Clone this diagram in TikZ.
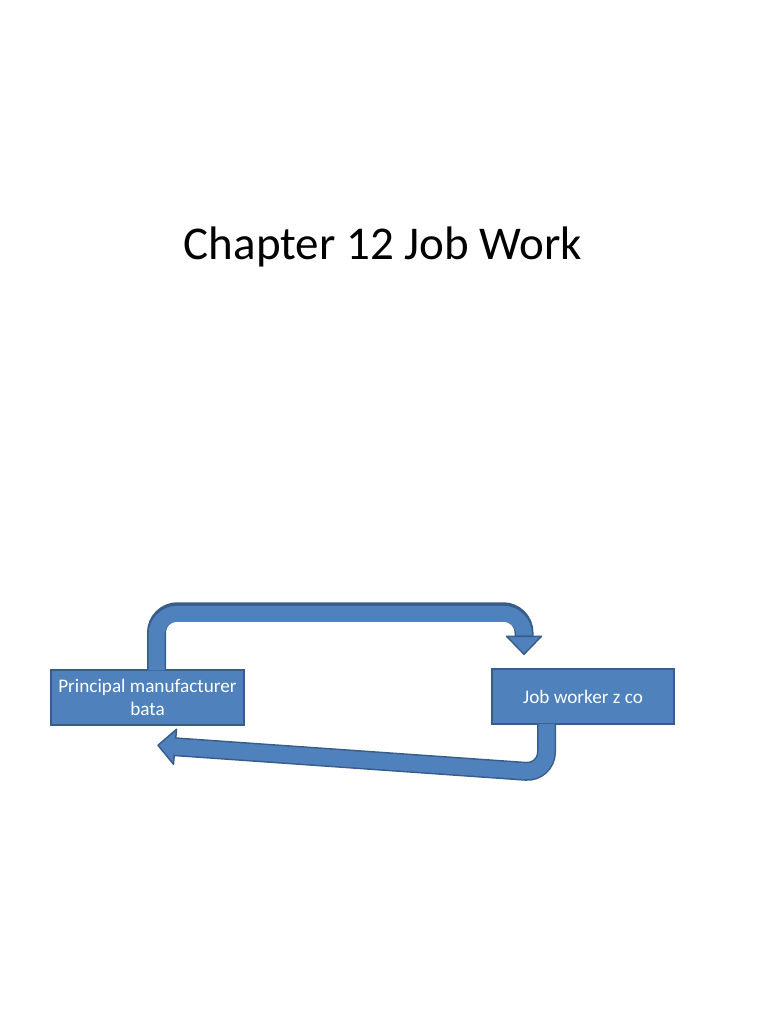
\documentclass[tikz,border=0pt]{standalone}
\usepackage{fontspec}
\setmainfont{Carlito}
\usetikzlibrary{positioning,calc}
\definecolor{boxblue}{HTML}{4F81BD}
\definecolor{boxedge}{HTML}{385D8A}
\begin{document}
\begin{tikzpicture}[x=1pt, y=-1pt,
		party/.style={draw=boxedge, fill=boxblue, line width=1.5pt, text=white, align=center,
			minimum height=55pt, inner sep=0pt, font=\fontsize{19.2}{23}\selectfont},
		shaftout/.style={draw=boxedge, line width=19pt, rounded corners=21pt},
		shaftin/.style={draw=boxblue, line width=16pt, rounded corners=21pt},
		headtip/.style={fill=boxblue, draw=boxedge, line width=1.5pt, line join=round}]
	\useasboundingbox (0,0) rectangle (768,1024);

	\node[font=\fontsize{47}{50}\selectfont] (title) at (383,247) {Chapter 12 Job Work};

	\node[party, minimum width=193pt] (manufacturer) at (147.5,697.5) {Principal manufacturer\\bata};
	\node[party, minimum width=182pt] (worker) at (583,696.5) {Job worker z co};

	\coordinate (gobase) at ($(worker.north)+(-59,-32)$);
	\coordinate (gotip) at ($(worker.north)+(-59,-14)$);
	\coordinate (backbend) at ($(worker.south)+(-36.5,48)$);
	\coordinate (backbase) at ($(manufacturer.south)+(27.5,21)$);
	\coordinate (backtip) at ($(manufacturer.south)+(10.5,19.5)$);

	\draw[shaftout] ([xshift=9]manufacturer.north) -- ++(0,-57.5) -| (gobase);
	\draw[shaftout] ([xshift=-36.5]worker.south) -- (backbend) -- (backbase);

	\filldraw[headtip] ($(gobase)!17.5pt!90:(gotip)$) -- (gotip) -- ($(gobase)!17.5pt!-90:(gotip)$) -- cycle;
	\filldraw[headtip] ($(backbase)!17.5pt!90:(backtip)$) -- (backtip) -- ($(backbase)!17.5pt!-90:(backtip)$) -- cycle;

	\draw[shaftin] ([xshift=9,yshift=-1]manufacturer.north) -- ++(0,-56.5) -| ([yshift=1]gobase);
	\draw[shaftin] ([xshift=-36.5,yshift=1]worker.south) -- (backbend) -- ($(backbase)!1pt!(backtip)$);
\end{tikzpicture}
\end{document}
